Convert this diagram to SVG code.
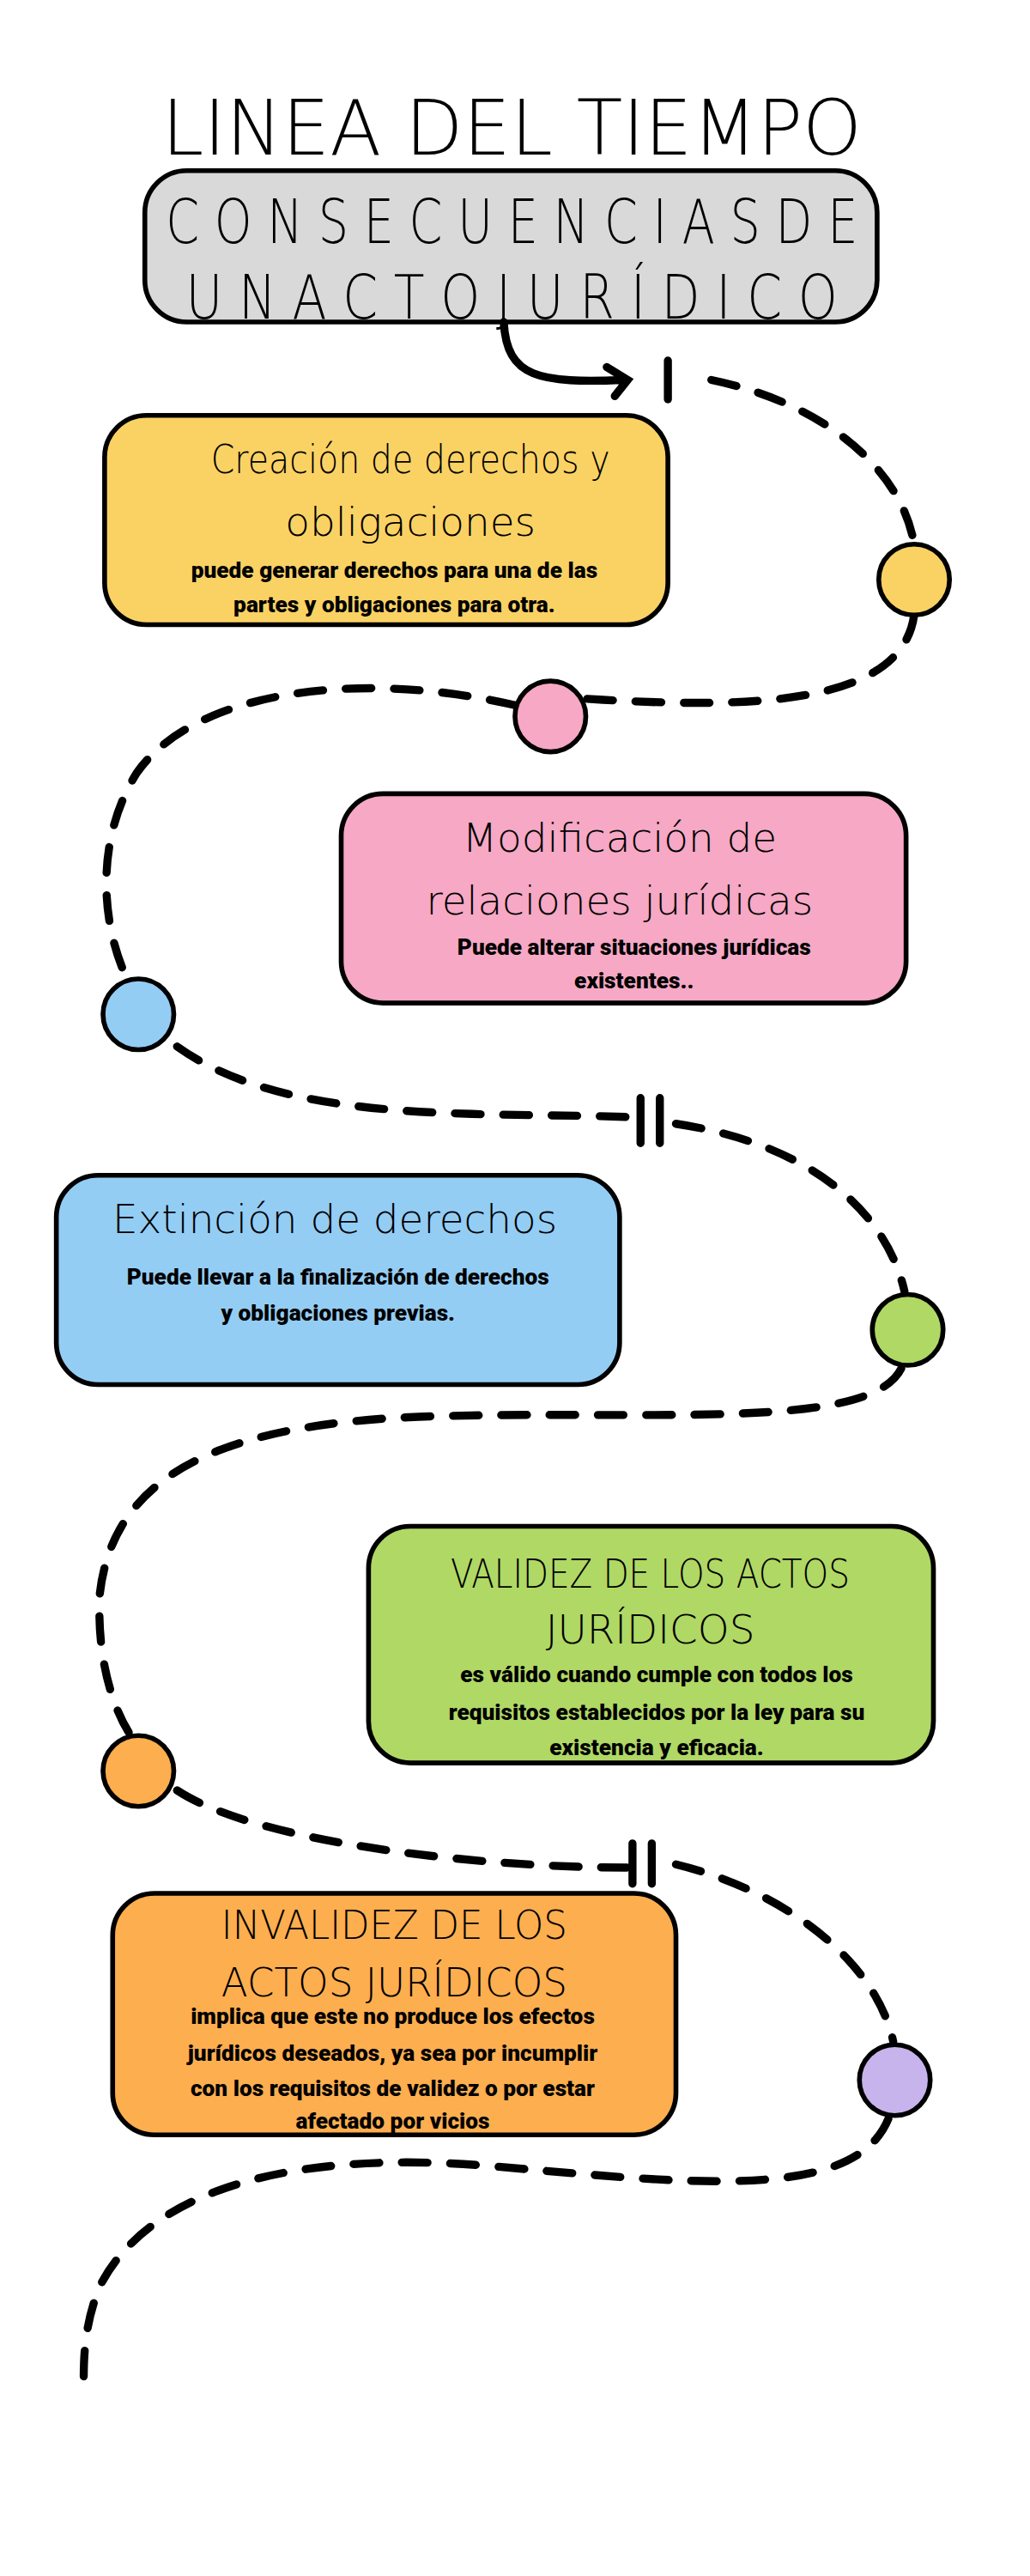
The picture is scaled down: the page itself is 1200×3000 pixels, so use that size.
<svg xmlns="http://www.w3.org/2000/svg" width="1200" height="3000" viewBox="0 0 1200 3000">
<style>
.box{stroke:#000;stroke-width:3}
.h{font-family:"DejaVu Sans","Liberation Sans",sans-serif;font-weight:200;font-size:25px;text-anchor:middle;fill:#000}
.b{font-family:Roboto,"Liberation Sans",sans-serif;font-weight:900;font-size:14px;text-anchor:middle;fill:#000}
.dot{stroke:#000;stroke-width:3}
.dash{fill:none;stroke:#000;stroke-width:5;stroke-linecap:round;stroke-dasharray:16 14}
.solid{fill:none;stroke:#000;stroke-width:5;stroke-linecap:round}
</style>
<rect width="1200" height="3000" fill="#fff"/>
<g transform="scale(1.875)">
<g id="title">
<text transform="translate(318 96) scale(1 1.9)" class="h" font-size="34" textLength="435" lengthAdjust="spacingAndGlyphs">LINEA DEL TIEMPO</text>
<rect x="90" y="106" width="455" height="94" rx="26" fill="#d9d9d9" class="box"/>
<text transform="translate(318 151) scale(1 1.5)" class="h" font-size="28" textLength="430" lengthAdjust="spacingAndGlyphs">C O N S E C U E N C I A S D E</text>
<text transform="translate(318 198) scale(1 1.5)" class="h" font-size="28" textLength="405" lengthAdjust="spacingAndGlyphs">U N A C T O J U R Í D I C O</text>
</g>
<g id="connectors">
<path class="solid" d="M313 200 C315 235 335 238 388 236 M377 228 L390 236 L382 246" stroke-width="4"/>
<path class="solid" d="M415 224 V248"/>
<path class="dash" d="M442 236 C510 250 560 290 568 338"/>
<path class="dash" d="M568 382 C560 440 460 440 364 434"/>
<path class="dash" d="M320 438 C220 415 120 430 85 480 C60 520 62 570 78 606"/>
<path class="dash" d="M110 650 C180 700 300 690 395 694"/>
<path class="solid" d="M398 682 V710 M410 682 V710"/>
<path class="dash" d="M420 698 C500 710 550 750 562 802"/>
<path class="dash" d="M560 850 C540 890 400 875 260 880 C130 885 70 920 62 990 C60 1030 70 1060 80 1076"/>
<path class="dash" d="M110 1112 C160 1145 300 1160 390 1160"/>
<path class="solid" d="M393 1145 V1170 M405 1145 V1170"/>
<path class="dash" d="M420 1158 C490 1175 545 1220 555 1268"/>
<path class="dash" d="M552 1316 C530 1370 420 1355 300 1345 C170 1335 90 1365 62 1420 C52 1445 52 1465 52 1482"/>
</g>
<g id="circles">
<circle cx="568" cy="360" r="22" fill="#fad264" class="dot"/>
<circle cx="342" cy="445" r="22" fill="#f6a8c5" class="dot"/>
<circle cx="86" cy="630" r="22" fill="#94cdf4" class="dot"/>
<circle cx="564" cy="826" r="22" fill="#b0d865" class="dot"/>
<circle cx="86" cy="1100" r="22" fill="#fdae4f" class="dot"/>
<circle cx="556" cy="1292" r="22" fill="#c8b4ec" class="dot"/>
</g>
<g id="n1">
<rect x="65" y="258" width="350" height="130" rx="26" fill="#fad264" class="box"/>
<text x="255" y="294" class="h" textLength="248" lengthAdjust="spacingAndGlyphs">Creación de derechos y</text>
<text x="255" y="333" class="h">obligaciones</text>
<text x="245" y="359" class="b">puede generar derechos para una de las</text>
<text x="245" y="380" class="b">partes y obligaciones para otra.</text>
</g>
<g id="n2">
<rect x="212" y="493" width="351" height="130" rx="26" fill="#f6a8c5" class="box"/>
<text x="385" y="529" class="h">Modificación de</text>
<text x="385" y="568" class="h">relaciones jurídicas</text>
<text x="394" y="593" class="b">Puede alterar situaciones jurídicas</text>
<text x="394" y="614" class="b">existentes..</text>
</g>
<g id="n3">
<rect x="35" y="730" width="350" height="130" rx="26" fill="#94cdf4" class="box"/>
<text x="208" y="766" class="h">Extinción de derechos</text>
<text x="210" y="798" class="b">Puede llevar a la finalización de derechos</text>
<text x="210" y="820" class="b">y obligaciones previas.</text>
</g>
<g id="n4">
<rect x="229" y="948" width="351" height="147" rx="26" fill="#b0d865" class="box"/>
<text x="404" y="986" class="h" textLength="248" lengthAdjust="spacingAndGlyphs">VALIDEZ DE LOS ACTOS</text>
<text x="404" y="1021" class="h">JURÍDICOS</text>
<text x="408" y="1045" class="b">es válido cuando cumple con todos los</text>
<text x="408" y="1068" class="b">requisitos establecidos por la ley para su</text>
<text x="408" y="1090" class="b">existencia y eficacia.</text>
</g>
<g id="n5">
<rect x="70" y="1176" width="350" height="150" rx="26" fill="#fdae4f" class="box"/>
<text x="245" y="1204" class="h" textLength="215" lengthAdjust="spacingAndGlyphs">INVALIDEZ DE LOS</text>
<text x="245" y="1240" class="h" textLength="215" lengthAdjust="spacingAndGlyphs">ACTOS JURÍDICOS</text>
<text x="244" y="1257" class="b">implica que este no produce los efectos</text>
<text x="244" y="1280" class="b">jurídicos deseados, ya sea por incumplir</text>
<text x="244" y="1302" class="b">con los requisitos de validez o por estar</text>
<text x="244" y="1322" class="b">afectado por vicios</text>
</g>
</g>
</svg>
